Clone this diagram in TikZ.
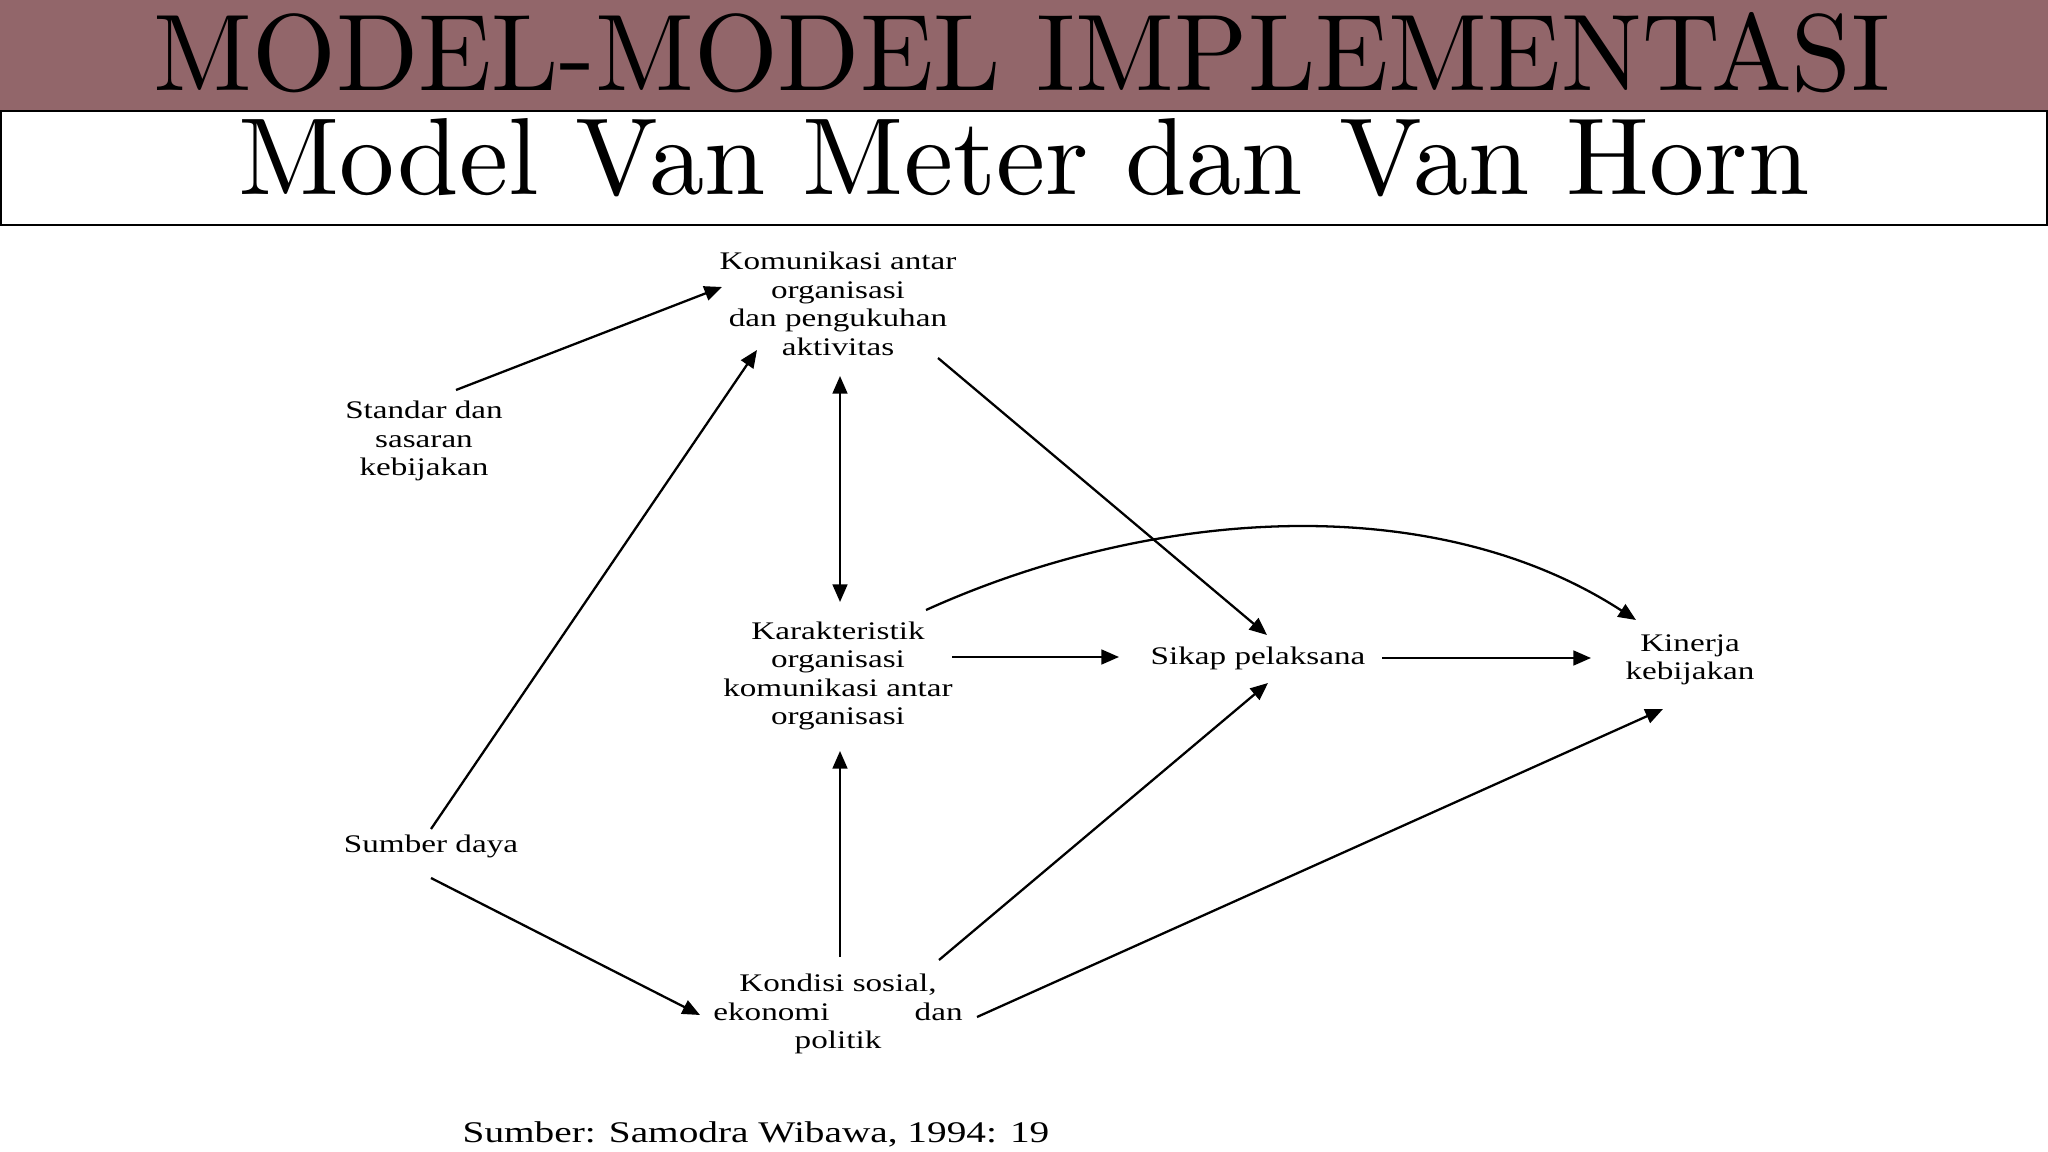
\documentclass[tikz,border=0pt]{standalone}
\usepackage{fontspec}
\usetikzlibrary{arrows.meta}
\newfontfamily\dfont{Liberation Serif}[FakeStretch=1.31]
\definecolor{band}{RGB}{146,102,106}
\begin{document}
\begin{tikzpicture}[x=0.01cm,y=-0.01cm,
  lbl/.style={font={\dfont\fontsize{7.2}{8.1}\selectfont}, align=center, inner sep=0pt},
  arr/.style={line width=0.65pt, -{Triangle[length=5pt,width=4.2pt]}},
  dbl/.style={line width=0.65pt, {Triangle[length=5pt,width=4.2pt]}-{Triangle[length=5pt,width=4.2pt]}}
]
\useasboundingbox (0,0) rectangle (2048,1152);
\fill[white] (0,0) rectangle (2048,1152);
\fill[band] (0,0) rectangle (2048,110);
\draw[line width=0.5pt] (1,111) rectangle (2047,225);
\node[anchor=base, inner sep=0pt] (title) at (1022,91) {\resizebox{17.36cm}{0.78cm}{MODEL-MODEL IMPLEMENTASI}};
\node[anchor=base, inner sep=0pt] (sub) at (1024,195) {\resizebox{15.7cm}{0.76cm}{Model Van Meter dan Van Horn}};

\node[lbl] (kom) at (838,304) {Komunikasi antar\\organisasi\\dan pengukuhan\\aktivitas};
\node[lbl] (std) at (424,441) {Standar dan\\sasaran\\kebijakan};
\node[lbl] (kar) at (838,676) {Karakteristik\\organisasi\\komunikasi antar\\organisasi};
\node[lbl] (sik) at (1258,658) {Sikap pelaksana};
\node[lbl] (kin) at (1690,660) {Kinerja\\kebijakan};
\node[lbl] (sd) at (431,846) {Sumber daya};
\node[lbl] (kon) at (838,1014) {Kondisi sosial,\\\makebox[2.49cm][s]{ekonomi\hfill dan}\\politik};
\node[inner sep=0pt, font={\dfont\fontsize{8.53}{10}\selectfont}] (src) at (756,1134) {Sumber: Samodra Wibawa, 1994: 19};

\draw[arr] ([shift={(32,-51)}]std.center) -- ([shift={(-116,-17)}]kom.center);
\draw[arr] ([shift={(0,-17)}]sd.center) -- ([shift={(-81,46)}]kom.center);
\draw[dbl] ([shift={(2,72)}]kom.center) -- ([shift={(2,-74)}]kar.center);
\draw[arr] ([shift={(100,54)}]kom.center) -- ([shift={(9,-23)}]sik.center);
\draw[arr] ([shift={(88,-66)}]kar.center) .. controls (1156,506) and (1436,490) .. ([shift={(-54,-40)}]kin.center);
\draw[arr] ([shift={(114,-19)}]kar.center) -- ([shift={(-139,-1)}]sik.center);
\draw[arr] ([shift={(124,0)}]sik.center) -- ([shift={(-99,-2)}]kin.center);
\draw[arr] ([shift={(0,32)}]sd.center) -- ([shift={(-138,1)}]kon.center);
\draw[arr] ([shift={(2,-57)}]kon.center) -- ([shift={(2,75)}]kar.center);
\draw[arr] ([shift={(101,-54)}]kon.center) -- ([shift={(10,25)}]sik.center);
\draw[arr] ([shift={(139,3)}]kon.center) -- ([shift={(-27,49)}]kin.center);
\end{tikzpicture}
\end{document}
